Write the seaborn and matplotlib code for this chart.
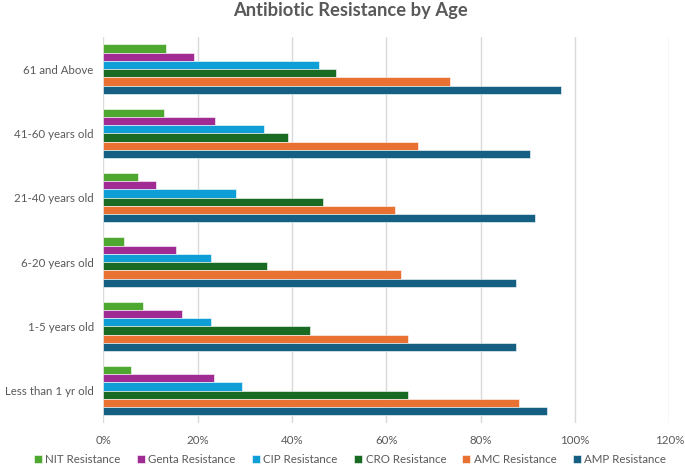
import pandas as pd
import matplotlib.pyplot as plt
import seaborn as sns
from matplotlib.ticker import PercentFormatter

age_groups = ['61 and Above', '41-60 years old', '21-40 years old',
              '6-20 years old', '1-5 years old', 'Less than 1 yr old']
series_names = ['NIT Resistance', 'Genta Resistance', 'CIP Resistance',
                'CRO Resistance', 'AMC Resistance', 'AMP Resistance']

nit = [13.3, 12.8, 7.3, 4.4, 8.3, 5.8]
genta = [19.3, 23.7, 11.1, 15.4, 16.7, 23.5]
cip = [45.8, 34.0, 28.2, 22.8, 22.9, 29.4]
cro = [49.4, 39.1, 46.6, 34.6, 43.8, 64.6]
amc = [73.5, 66.7, 61.8, 63.1, 64.6, 88.2]
amp = [97.0, 90.4, 91.5, 87.5, 87.5, 94.1]

colors = ['#4EA72E', '#A02B93', '#0F9ED5', '#196B24', '#E97132', '#156082']


def build_frame():
    rows = []
    for name, vals in zip(series_names, [nit, genta, cip, cro, amc, amp]):
        for age, v in zip(age_groups, vals):
            rows.append({'age': age, 'series': name, 'value': v})
    return pd.DataFrame(rows)


def main():
    df = build_frame()
    sns.set_style('white')
    plt.rcParams['font.family'] = ['Lato', 'DejaVu Sans']

    fig = plt.figure(figsize=(6.85, 4.73), dpi=100)
    ax = fig.add_axes([0.151, 0.106, 0.826, 0.816])

    sns.barplot(data=df, y='age', x='value', hue='series', order=age_groups,
                hue_order=series_names, palette=colors, orient='h', width=0.77,
                saturation=1, edgecolor='white', linewidth=0.4, ax=ax)

    ax.set_xlim(0, 120)
    ax.set_xticks(range(0, 121, 20))
    ax.xaxis.set_major_formatter(PercentFormatter(decimals=0))
    ax.grid(axis='x', color='#d9d9d9', linewidth=1)
    ax.set_axisbelow(True)
    for s in ax.spines.values():
        s.set_visible(False)
    ax.set_xlabel('')
    ax.set_ylabel('')
    ax.tick_params(axis='both', length=0, labelsize=8.3, colors='#595959')
    ax.tick_params(axis='x', pad=9)
    ax.tick_params(axis='y', pad=7)

    fig.suptitle('Antibiotic Resistance by Age', fontsize=13.2, fontweight='bold',
                 color='#595959', x=0.511, y=0.995)

    handles, labels = ax.get_legend_handles_labels()
    ax.get_legend().remove()
    fig.legend(handles, labels, loc='lower center', bbox_to_anchor=(0.511, -0.005),
               ncol=6, frameon=False, fontsize=8.3, handlelength=0.7,
               handleheight=0.7, handletextpad=0.3, columnspacing=1.4,
               labelcolor='#595959')

    fig.savefig('out.png', dpi=100)


if __name__ == '__main__':
    main()
